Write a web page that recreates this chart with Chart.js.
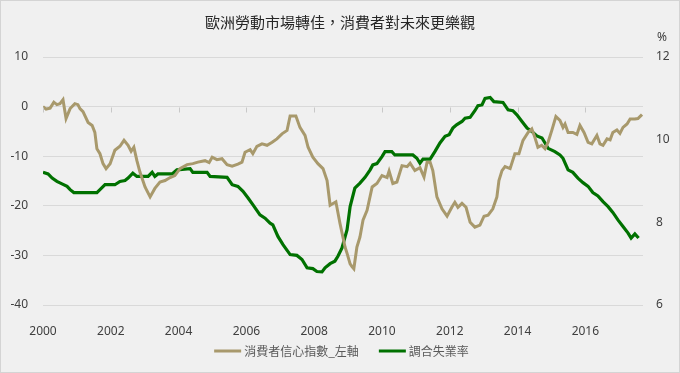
<!DOCTYPE html>
<html lang="zh-Hant">
  <head>
    <meta charset="UTF-8" />
    <script src="https://cdn.jsdelivr.net/npm/chart.js@4.4.1/dist/chart.umd.min.js"></script>
    <title>歐洲勞動市場</title>
    <style>
      html, body { margin: 0; padding: 0; background: #f0f0f0; }
      canvas { display: block; }
    </style>
  </head>
  <body>
    <canvas id="chart" width="680" height="373"></canvas>
    <script>
      // consumer confidence index (left axis)
      const ccYears = [
        2000.00, 2000.09, 2000.21, 2000.32, 2000.41, 2000.50, 2000.59, 2000.68, 2000.80, 2000.94,
        2001.03, 2001.09, 2001.18, 2001.33, 2001.45, 2001.53, 2001.59, 2001.68, 2001.77, 2001.86,
        2001.98, 2002.12, 2002.27, 2002.39, 2002.51, 2002.60, 2002.68, 2002.77, 2002.86, 2003.01,
        2003.16, 2003.30, 2003.45, 2003.60, 2003.75, 2003.89, 2004.04, 2004.25, 2004.42, 2004.57,
        2004.78, 2004.90, 2004.99, 2005.13, 2005.28, 2005.43, 2005.58, 2005.75, 2005.87, 2005.96,
        2006.11, 2006.19, 2006.31, 2006.46, 2006.61, 2006.76, 2006.90, 2007.05, 2007.20, 2007.29,
        2007.46, 2007.58, 2007.73, 2007.82, 2007.96, 2008.11, 2008.26, 2008.38, 2008.47, 2008.64,
        2008.76, 2008.91, 2008.97, 2009.06, 2009.12, 2009.17, 2009.26, 2009.35, 2009.44, 2009.56,
        2009.71, 2009.85, 2010.00, 2010.15, 2010.21, 2010.32, 2010.44, 2010.59, 2010.74, 2010.83,
        2010.97, 2011.12, 2011.24, 2011.33, 2011.42, 2011.50, 2011.62, 2011.77, 2011.92, 2012.06,
        2012.15, 2012.24, 2012.36, 2012.48, 2012.60, 2012.74, 2012.89, 2013.01, 2013.13, 2013.27,
        2013.39, 2013.45, 2013.54, 2013.63, 2013.78, 2013.92, 2014.04, 2014.16, 2014.31, 2014.42,
        2014.51, 2014.60, 2014.71, 2014.81, 2014.90, 2015.01, 2015.13, 2015.25, 2015.34, 2015.40,
        2015.49, 2015.63, 2015.75, 2015.84, 2015.96, 2016.08, 2016.19, 2016.34, 2016.43, 2016.52,
        2016.64, 2016.73, 2016.81, 2016.93, 2017.02, 2017.11, 2017.23, 2017.32, 2017.46, 2017.55,
        2017.67
      ];
      const ccValues = [
        0.0, -0.5, -0.3, 0.9, 0.4, 0.6, 1.4, -2.4, -0.4, 0.6,
        0.4, -0.4, -1.0, -3.2, -3.8, -5.2, -8.5, -9.5, -11.5, -12.5,
        -11.5, -8.8, -8.0, -6.8, -7.8, -9.0, -8.2, -10.9, -13.2, -16.2,
        -18.2, -16.5, -15.2, -14.9, -14.3, -13.9, -12.5, -11.7, -11.5, -11.2,
        -10.9, -11.3, -10.2, -10.7, -10.5, -11.7, -12.0, -11.6, -11.2, -9.2,
        -8.7, -9.5, -8.0, -7.5, -7.8, -7.2, -6.5, -5.5, -4.8, -1.9,
        -1.9, -4.2, -5.8, -8.2, -10.2, -11.5, -12.5, -14.9, -19.9, -19.2,
        -23.5, -28.3, -29.6, -31.7, -32.3, -32.7, -28.3, -26.3, -22.9, -20.9,
        -16.2, -15.5, -13.9, -14.3, -13.0, -15.5, -15.2, -11.9, -12.1, -11.4,
        -12.9, -12.3, -14.2, -11.2, -11.2, -12.9, -18.2, -20.6, -22.1, -20.3,
        -19.3, -20.3, -19.5, -20.3, -23.3, -24.3, -23.9, -22.1, -21.9, -20.6,
        -18.2, -14.9, -12.9, -12.1, -12.5, -9.5, -9.5, -6.8, -5.2, -4.5,
        -6.2, -8.2, -7.8, -8.5, -7.2, -4.8, -2.0, -2.8, -4.2, -3.5,
        -5.2, -5.2, -5.6, -3.8, -5.2, -7.2, -7.5, -5.8, -7.5, -7.8,
        -6.5, -6.7, -5.2, -4.7, -5.4, -4.2, -3.5, -2.5, -2.5, -2.4,
        -1.6
      ];

      // harmonised unemployment rate, % (right axis)
      const urYears = [
        2000.00, 2000.15, 2000.27, 2000.41, 2000.56, 2000.71, 2000.80, 2000.91, 2001.59, 2001.68,
        2001.83, 2002.12, 2002.27, 2002.42, 2002.51, 2002.65, 2002.77, 2003.10, 2003.22, 2003.30,
        2003.39, 2003.81, 2003.95, 2004.34, 2004.42, 2004.84, 2004.93, 2005.43, 2005.58, 2005.75,
        2005.90, 2006.05, 2006.19, 2006.40, 2006.55, 2006.70, 2006.78, 2006.93, 2007.08, 2007.29,
        2007.49, 2007.64, 2007.79, 2007.96, 2008.08, 2008.23, 2008.32, 2008.47, 2008.61, 2008.70,
        2008.82, 2008.97, 2009.06, 2009.20, 2009.35, 2009.50, 2009.65, 2009.73, 2009.85, 2010.00,
        2010.09, 2010.29, 2010.38, 2010.91, 2011.03, 2011.12, 2011.21, 2011.42, 2011.56, 2011.71,
        2011.86, 2011.98, 2012.09, 2012.20, 2012.36, 2012.45, 2012.60, 2012.74, 2012.83, 2012.95,
        2013.04, 2013.19, 2013.30, 2013.57, 2013.72, 2013.86, 2013.98, 2014.13, 2014.28, 2014.42,
        2014.57, 2014.72, 2014.81, 2014.90, 2015.10, 2015.25, 2015.34, 2015.49, 2015.63, 2015.78,
        2015.93, 2016.08, 2016.22, 2016.37, 2016.52, 2016.67, 2016.81, 2016.96, 2017.11, 2017.26,
        2017.35, 2017.46, 2017.57
      ];
      const urValues = [
        9.21, 9.17, 9.07, 8.99, 8.93, 8.87, 8.79, 8.72, 8.72, 8.79,
        8.91, 8.91, 8.99, 9.01, 9.07, 9.19, 9.11, 9.11, 9.21, 9.11,
        9.17, 9.17, 9.27, 9.30, 9.21, 9.21, 9.11, 9.09, 8.91, 8.87,
        8.75, 8.59, 8.43, 8.18, 8.10, 7.98, 7.94, 7.66, 7.46, 7.22,
        7.20, 7.10, 6.90, 6.88, 6.81, 6.80, 6.90, 7.00, 7.06, 7.18,
        7.38, 7.82, 8.38, 8.83, 8.95, 9.09, 9.27, 9.39, 9.42, 9.59,
        9.71, 9.71, 9.63, 9.63, 9.55, 9.43, 9.53, 9.53, 9.71, 9.92,
        10.08, 10.12, 10.28, 10.36, 10.44, 10.52, 10.54, 10.70, 10.82, 10.84,
        11.00, 11.02, 10.92, 10.90, 10.72, 10.70, 10.60, 10.44, 10.28, 10.20,
        10.09, 10.04, 9.92, 9.79, 9.71, 9.63, 9.55, 9.27, 9.21, 9.07,
        8.96, 8.87, 8.72, 8.64, 8.50, 8.38, 8.24, 8.06, 7.90, 7.74,
        7.62, 7.72, 7.62
      ];

      const seriesNames = ["消費者信心指數_左軸", "調合失業率"];
      const leftTicks = [-40, -30, -20, -10, 0, 10];
      const rightTicks = [6, 8, 10, 12];
      const yearTicks = [2000, 2002, 2004, 2006, 2008, 2010, 2012, 2014, 2016];

      const tan = "#a8996c";
      const green = "#007100";

      Chart.defaults.font.family = "'Noto Sans', 'Noto Sans CJK TC', sans-serif";
      Chart.defaults.font.size = 12;
      Chart.defaults.color = "#404040";

      // background, frame, % label, little ticks on the zero line, legend
      const decor = {
        id: "decor",
        beforeDraw(chart) {
          const c = chart.ctx;
          c.save();
          c.fillStyle = "#f0f0f0";
          c.fillRect(0, 0, chart.width, chart.height);
          c.strokeStyle = "#d4d4d4";
          c.lineWidth = 1;
          c.strokeRect(0.5, 0.5, chart.width - 1, chart.height - 1);
          c.restore();
        },
        afterDraw(chart) {
          const c = chart.ctx;
          const xs = chart.scales.x;
          const ys = chart.scales.y;
          const area = chart.chartArea;
          c.save();

          // tick marks hanging under the 0 line
          const y0 = Math.round(ys.getPixelForValue(0)) + 0.5;
          c.strokeStyle = "#c8c8c8";
          c.lineWidth = 1;
          yearTicks.forEach((v) => {
            const px = Math.round(xs.getPixelForValue(v)) + 0.5;
            c.beginPath();
            c.moveTo(px, y0);
            c.lineTo(px, y0 + 5);
            c.stroke();
          });

          // % unit above right axis
          c.fillStyle = "#404040";
          c.font = "12px 'Noto Sans', sans-serif";
          c.textAlign = "left";
          c.textBaseline = "middle";
          c.fillText("%", area.right + 14, 38);

          // legend
          c.font = "12px 'Noto Sans CJK TC', sans-serif";
          c.fillStyle = "#595959";
          const lineLen = 27, gap = 3, itemGap = 20;
          const w1 = c.measureText(seriesNames[0]).width;
          const w2 = c.measureText(seriesNames[1]).width;
          const total = lineLen + gap + w1 + itemGap + lineLen + gap + w2;
          let x = chart.width / 2 + 1.5 - total / 2;
          const ly = 351;
          [[tan, seriesNames[0], w1], [green, seriesNames[1], w2]].forEach(([col, name, w]) => {
            c.strokeStyle = col;
            c.lineWidth = 3;
            c.beginPath();
            c.moveTo(x, ly);
            c.lineTo(x + lineLen, ly);
            c.stroke();
            c.fillText(name, x + lineLen + gap, ly);
            x += lineLen + gap + w + itemGap;
          });
          c.restore();
        },
      };

      new Chart(document.getElementById("chart"), {
        type: "line",
        data: {
          datasets: [
            {
              label: seriesNames[0],
              data: ccYears.map((yr, i) => ({ x: yr, y: ccValues[i] })),
              borderColor: tan,
              backgroundColor: tan,
              borderWidth: 3,
              pointRadius: 0,
              yAxisID: "y",
            },
            {
              label: seriesNames[1],
              data: urYears.map((yr, i) => ({ x: yr, y: urValues[i] })),
              borderColor: green,
              backgroundColor: green,
              borderWidth: 3.2,
              pointRadius: 0,
              yAxisID: "y1",
            },
          ],
        },
        options: {
          responsive: false,
          animation: false,
          layout: { padding: { top: 0, right: 0, bottom: 0, left: 0 } },
          plugins: {
            legend: { display: false },
            tooltip: { enabled: false },
            title: {
              display: true,
              text: "歐洲勞動市場轉佳，消費者對未來更樂觀",
              color: "#262626",
              font: { size: 15, weight: "normal", family: "'Noto Sans CJK TC', sans-serif" },
              padding: { top: 13, bottom: 26 },
            },
          },
          scales: {
            x: {
              type: "linear",
              min: 2000,
              max: 2017.7,
              grid: { display: false },
              border: { display: false },
              afterFit: (s) => { s.height = 68; },
              afterBuildTicks: (s) => { s.ticks = yearTicks.map((v) => ({ value: v })); },
              ticks: {
                autoSkip: false,
                maxRotation: 0,
                padding: 11,
                callback: (v) => String(v),
              },
            },
            y: {
              position: "left",
              min: -40,
              max: 10,
              grid: { color: "#d9d9d9", drawTicks: false },
              border: { display: false },
              afterFit: (s) => { s.width = 43; },
              afterBuildTicks: (s) => { s.ticks = leftTicks.map((v) => ({ value: v })); },
              ticks: { padding: 15 },
            },
            y1: {
              position: "right",
              min: 6,
              max: 12,
              grid: { display: false, drawTicks: false },
              border: { display: false },
              afterFit: (s) => { s.width = 37; },
              afterBuildTicks: (s) => { s.ticks = rightTicks.map((v) => ({ value: v })); },
              ticks: { padding: 13 },
            },
          },
        },
        plugins: [decor],
      });
    </script>
  </body>
</html>
